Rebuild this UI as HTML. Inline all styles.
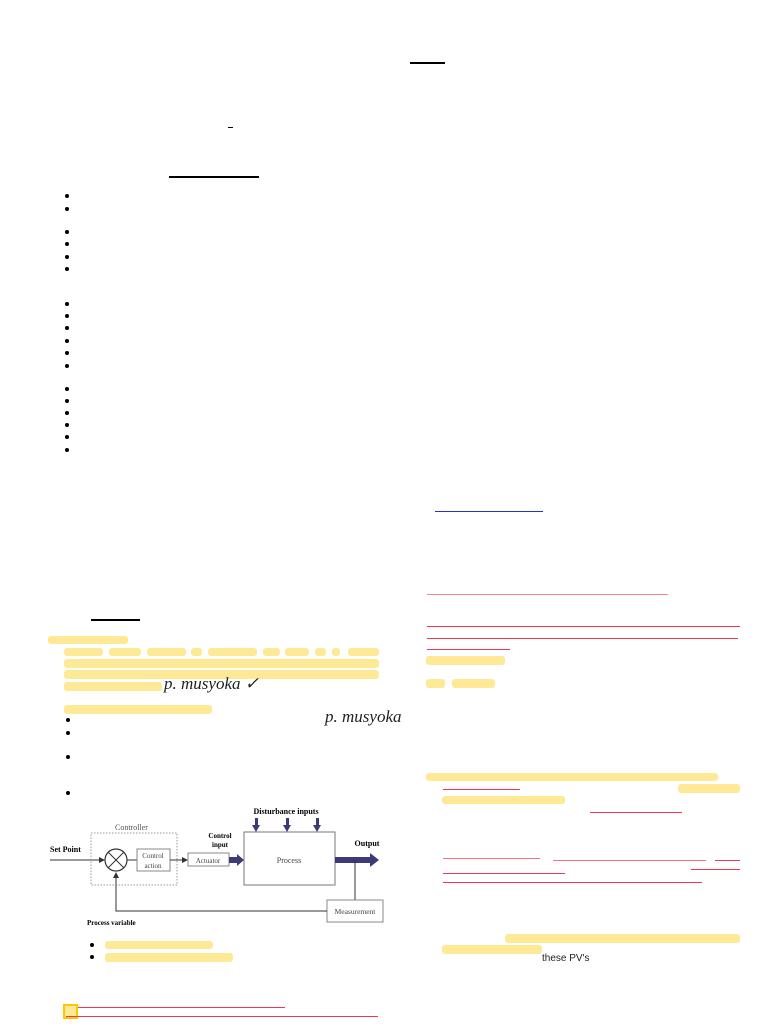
<!DOCTYPE html><html><head><meta charset="utf-8"><style>
body{margin:0;width:768px;height:1024px;background:#fff;position:relative;overflow:hidden;font-family:"Liberation Serif",serif}
.a{position:absolute}
.d{position:absolute;width:4px;height:4px;border-radius:50%;background:#000}
.y{position:absolute;background:#fee996;border-radius:3px}
.r{position:absolute;height:1px;background:#ee3a4e}
.k{position:absolute;height:2px;background:#000}
.sig{position:absolute;font-family:"Liberation Serif",serif;font-style:italic;font-size:17px;color:#222}
</style></head><body>
<div class="k" style="left:410px;top:62px;width:35px"></div>
<div class="k" style="left:228px;top:127px;width:5px;height:1px"></div>
<div class="k" style="left:169px;top:176px;width:90px"></div>
<div class="d" style="left:65px;top:194px"></div><div class="d" style="left:65px;top:207px"></div>
<div class="d" style="left:65px;top:230px"></div><div class="d" style="left:65px;top:242px"></div>
<div class="d" style="left:65px;top:255px"></div><div class="d" style="left:65px;top:267px"></div>
<div class="d" style="left:65px;top:302px"></div><div class="d" style="left:65px;top:314px"></div>
<div class="d" style="left:65px;top:326px"></div><div class="d" style="left:65px;top:339px"></div>
<div class="d" style="left:65px;top:351px"></div><div class="d" style="left:65px;top:364px"></div>
<div class="d" style="left:65px;top:387px"></div><div class="d" style="left:65px;top:399px"></div>
<div class="d" style="left:65px;top:411px"></div><div class="d" style="left:65px;top:423px"></div>
<div class="d" style="left:65px;top:435px"></div><div class="d" style="left:65px;top:448px"></div>
<div class="a" style="left:435px;top:511px;width:108px;height:1px;background:#2233cc"></div>
<div class="k" style="left:91px;top:619px;width:49px"></div>
<div class="y" style="left:48px;top:636px;width:80px;height:8px"></div>
<div class="y" style="left:64px;top:648px;width:39px;height:8px"></div>
<div class="y" style="left:109px;top:648px;width:32px;height:8px"></div>
<div class="y" style="left:147px;top:648px;width:39px;height:8px"></div>
<div class="y" style="left:191px;top:648px;width:11px;height:8px"></div>
<div class="y" style="left:208px;top:648px;width:49px;height:8px"></div>
<div class="y" style="left:263px;top:648px;width:17px;height:8px"></div>
<div class="y" style="left:285px;top:648px;width:24px;height:8px"></div>
<div class="y" style="left:315px;top:648px;width:11px;height:8px"></div>
<div class="y" style="left:332px;top:648px;width:8px;height:8px"></div>
<div class="y" style="left:348px;top:648px;width:31px;height:8px"></div>
<div class="y" style="left:64px;top:659px;width:315px;height:9px"></div>
<div class="y" style="left:64px;top:670px;width:315px;height:9px"></div>
<div class="y" style="left:64px;top:682px;width:98px;height:9px"></div>
<div class="sig" style="left:164px;top:674px">p. musyoka ✓</div>
<div class="y" style="left:64px;top:705px;width:148px;height:9px"></div>
<div class="sig" style="left:325px;top:707px">p. musyoka</div>
<div class="d" style="left:66px;top:718px"></div><div class="d" style="left:66px;top:731px"></div>
<div class="d" style="left:66px;top:755px"></div><div class="d" style="left:66px;top:791px"></div>
<svg class="a" style="left:0;top:0" width="768" height="1024" font-family="Liberation Serif,serif">
<defs><marker id="m" markerWidth="6" markerHeight="6" refX="5" refY="3" orient="auto"><path d="M0,0L6,3L0,6z" fill="#333"/></marker></defs>
<text x="50" y="852" font-size="8" font-weight="bold">Set Point</text>
<line x1="50" y1="860" x2="104" y2="860" stroke="#333" marker-end="url(#m)"/>
<rect x="91" y="833" width="86" height="52" fill="none" stroke="#999" stroke-dasharray="1.5,1.5"/>
<text x="115" y="830" font-size="8" fill="#555">Controller</text>
<circle cx="116" cy="860" r="11" fill="none" stroke="#333" stroke-width="1.2"/>
<line x1="108" y1="852" x2="124" y2="868" stroke="#333"/><line x1="124" y1="852" x2="108" y2="868" stroke="#333"/>
<line x1="127" y1="860" x2="137" y2="860" stroke="#333"/>
<rect x="137" y="849" width="33" height="22" fill="none" stroke="#888"/>
<text x="153" y="858" font-size="7" text-anchor="middle" fill="#444">Control</text>
<text x="153" y="868" font-size="7" text-anchor="middle" fill="#444">action</text>
<line x1="170" y1="860" x2="187" y2="860" stroke="#333" marker-end="url(#m)"/>
<rect x="188" y="853" width="41" height="13" fill="none" stroke="#888"/>
<text x="208" y="863" font-size="7" text-anchor="middle" fill="#444">Actuator</text>
<rect x="229" y="857" width="9" height="6" fill="#3d3a7a"/><path d="M237,854L244,860L237,866z" fill="#3d3a7a"/>
<text x="220" y="838" font-size="7" font-weight="bold" text-anchor="middle">Control</text>
<text x="220" y="847" font-size="7" font-weight="bold" text-anchor="middle">input</text>
<rect x="244" y="832" width="91" height="53" fill="#fff" stroke="#777"/>
<text x="289" y="863" font-size="8" text-anchor="middle" fill="#444">Process</text>
<text x="286" y="814" font-size="8" font-weight="bold" text-anchor="middle">Disturbance inputs</text>
<g fill="#3d3a7a"><rect x="255" y="818" width="3" height="8"/><path d="M252,825L260,825L256,832z"/>
<rect x="286" y="818" width="3" height="8"/><path d="M283,825L291,825L287,832z"/>
<rect x="316" y="818" width="3" height="8"/><path d="M313,825L321,825L317,832z"/>
<rect x="335" y="857" width="36" height="6" fill="#3d3a7a"/><path d="M370,853L379,860L370,867z"/></g>
<text x="367" y="846" font-size="8" font-weight="bold" text-anchor="middle">Output</text>
<line x1="355" y1="860" x2="355" y2="900" stroke="#333"/>
<rect x="327" y="900" width="56" height="22" fill="#fff" stroke="#888"/>
<text x="355" y="914" font-size="7.5" text-anchor="middle" fill="#444">Measurement</text>
<polyline points="327,911 116,911 116,873" fill="none" stroke="#333" marker-end="url(#m)"/>
<text x="87" y="925" font-size="7" font-weight="bold">Process variable</text>
</svg>
<div class="d" style="left:90px;top:943px"></div><div class="d" style="left:90px;top:955px"></div>
<div class="y" style="left:105px;top:941px;width:108px;height:8px"></div>
<div class="y" style="left:105px;top:953px;width:128px;height:9px"></div>
<div class="a" style="left:63px;top:1004px;width:11px;height:11px;border:2px solid #fbc900;background:#fee996"></div>
<div class="r" style="left:78px;top:1007px;width:207px"></div>
<div class="r" style="left:66px;top:1016px;width:312px"></div>
<div class="r" style="left:427px;top:594px;width:241px;background:#f08890"></div>
<div class="r" style="left:427px;top:626px;width:313px"></div>
<div class="r" style="left:427px;top:638px;width:311px"></div>
<div class="r" style="left:427px;top:649px;width:83px"></div>
<div class="y" style="left:426px;top:656px;width:79px;height:9px"></div>
<div class="y" style="left:426px;top:679px;width:19px;height:9px"></div>
<div class="y" style="left:452px;top:679px;width:43px;height:9px"></div>
<div class="y" style="left:426px;top:773px;width:292px;height:8px"></div>
<div class="r" style="left:443px;top:789px;width:77px"></div>
<div class="y" style="left:678px;top:784px;width:62px;height:9px"></div>
<div class="y" style="left:442px;top:796px;width:123px;height:8px"></div>
<div class="r" style="left:590px;top:812px;width:92px"></div>
<div class="r" style="left:443px;top:858px;width:97px;background:#f07080"></div>
<div class="r" style="left:553px;top:860px;width:153px;background:#f07080"></div>
<div class="r" style="left:715px;top:860px;width:25px"></div>
<div class="r" style="left:691px;top:869px;width:49px"></div>
<div class="r" style="left:443px;top:873px;width:122px"></div>
<div class="r" style="left:443px;top:882px;width:259px"></div>
<div class="y" style="left:505px;top:934px;width:235px;height:9px"></div>
<div class="y" style="left:442px;top:945px;width:100px;height:9px"></div>
<div class="a" style="left:542px;top:953px;font-family:'Liberation Sans',sans-serif;font-size:10px;color:#222">these PV's</div>
</body></html>
